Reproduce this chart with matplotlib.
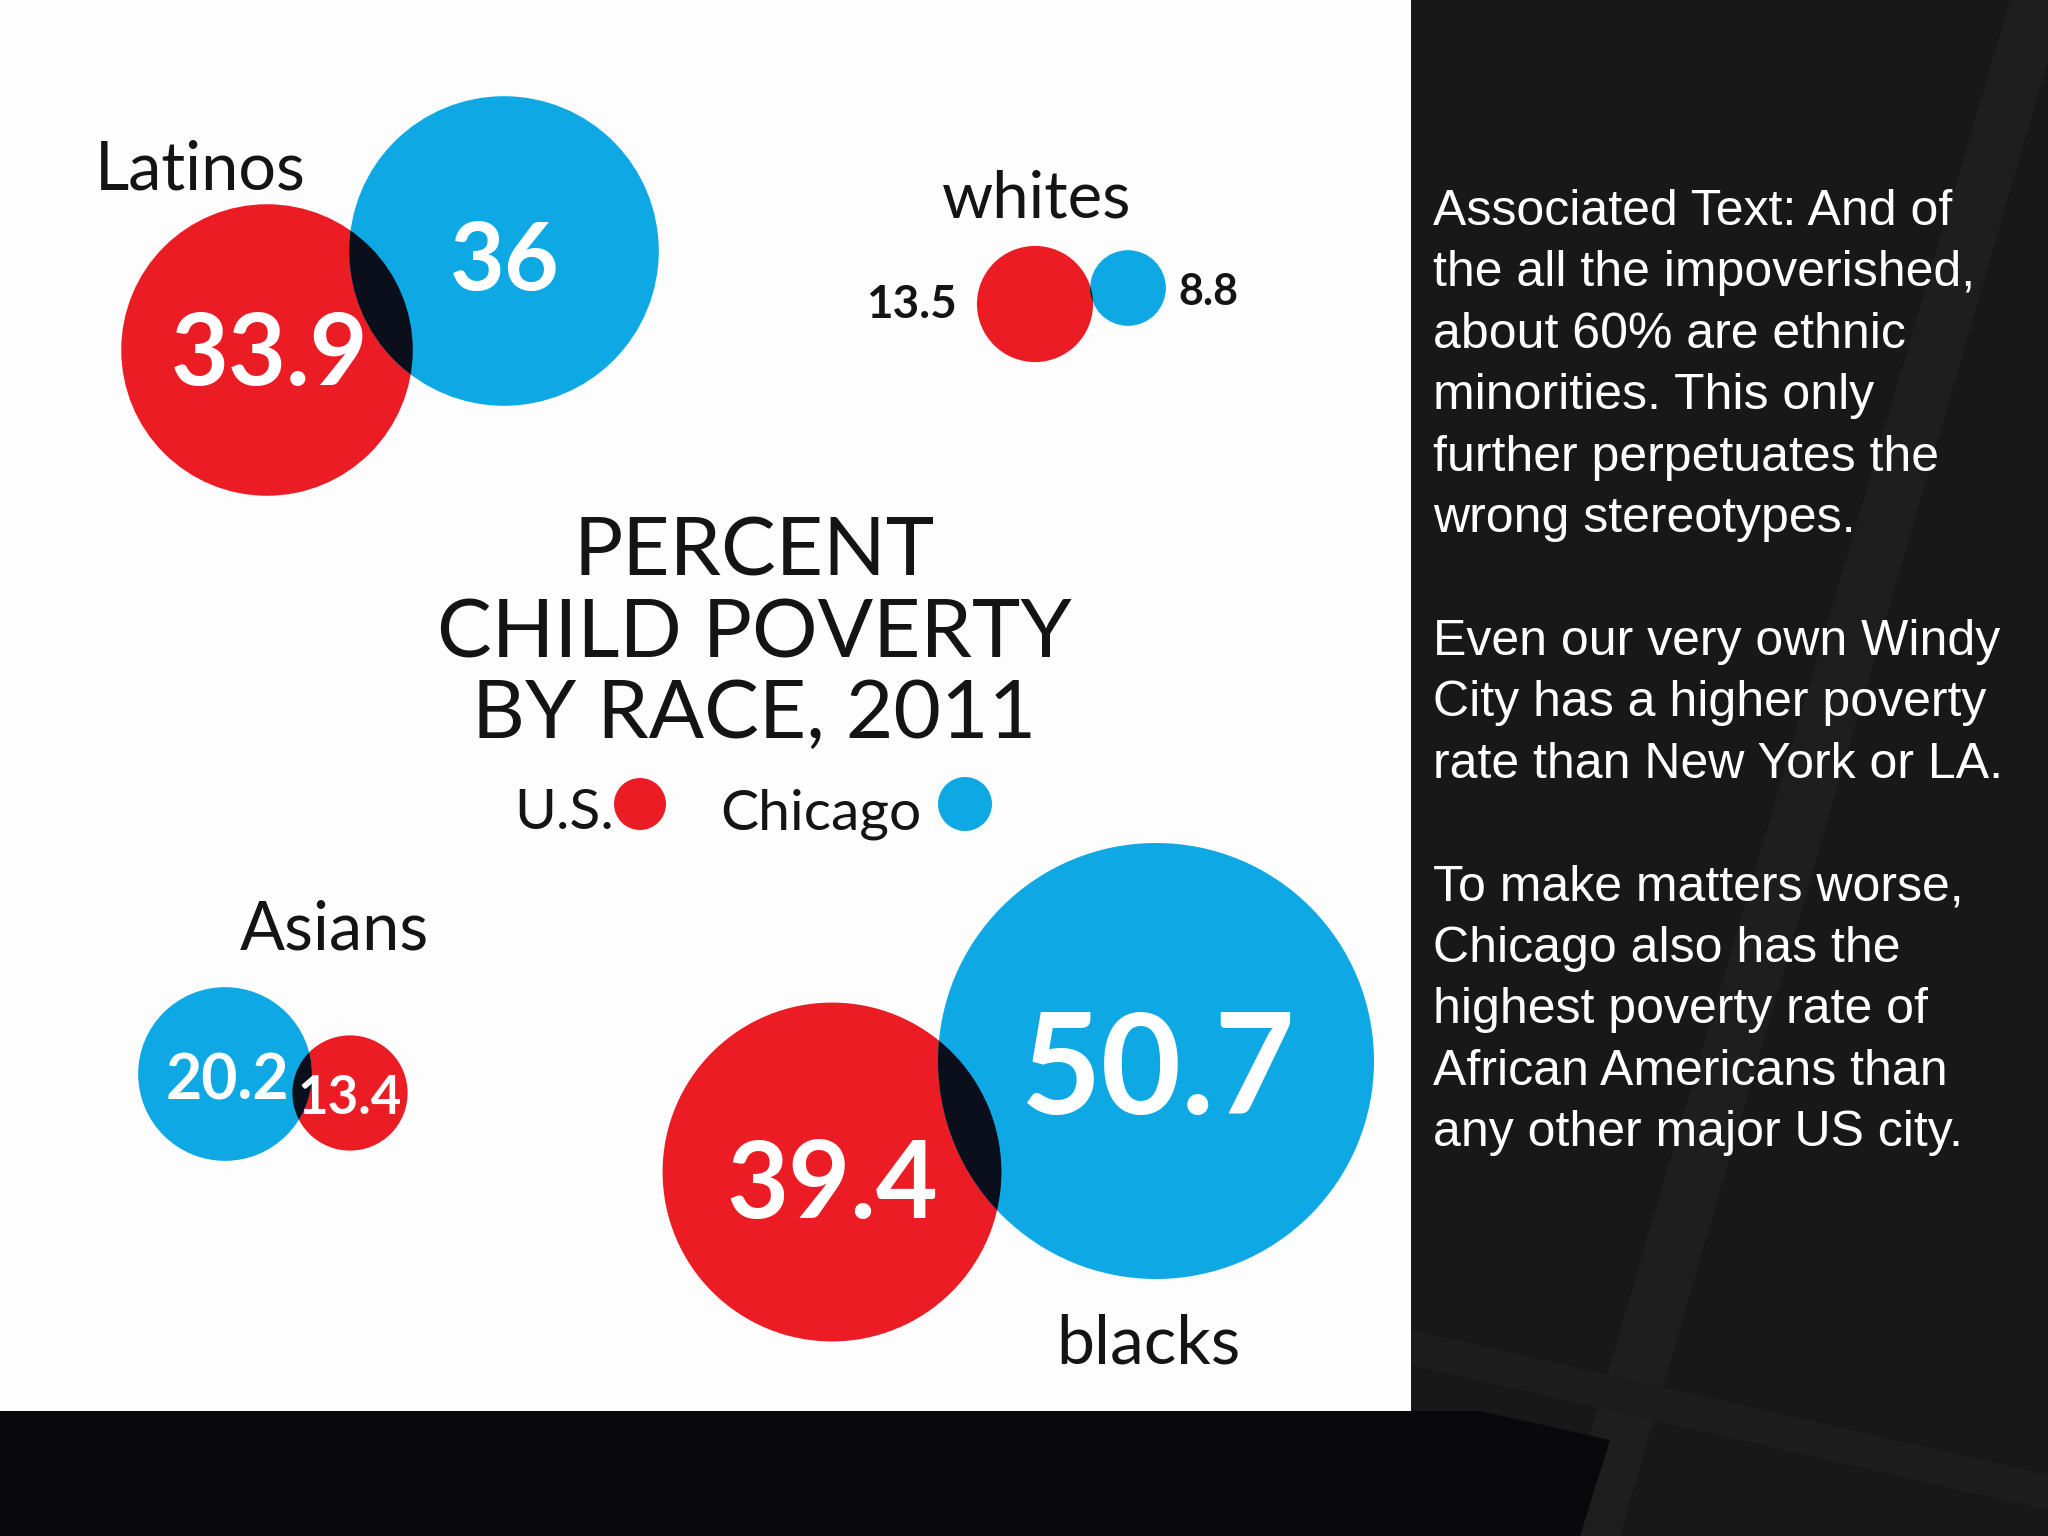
import matplotlib.pyplot as plt
from matplotlib.patches import Circle, Rectangle, Polygon

# data: child poverty rate (%) by race, 2011
groups = ['Latinos', 'whites', 'Asians', 'blacks']
us_vals = [33.9, 13.5, 13.4, 39.4]
chicago_vals = [36, 8.8, 20.2, 50.7]

notes = [
    'Associated Text: And of',
    'the all the impoverished,',
    'about 60% are ethnic',
    'minorities. This only',
    'further perpetuates the',
    'wrong stereotypes.',
    '',
    'Even our very own Windy',
    'City has a higher poverty',
    'rate than New York or LA.',
    '',
    'To make matters worse,',
    'Chicago also has the',
    'highest poverty rate of',
    'African Americans than',
    'any other major US city.',
]

RED = '#ec1c24'
BLUE = '#0ea9e4'
LENS = '#0b0f1c'
INK = '#141414'
px_per_pct = 4.3  # circle radius in pixels per percentage point

# layout (pixel coords, origin top-left)
us_xy = [(267, 350), (1035, 304), (350, 1093), (832, 1172)]
chi_xy = [(504, 251), (1128, 288), (225, 1074), (1156, 1061)]

fig = plt.figure(figsize=(20.48, 15.36), dpi=100)
fig.patch.set_facecolor('#181818')
ax = fig.add_axes([0, 0, 1, 1])
ax.set_xlim(0, 2048)
ax.set_ylim(1536, 0)
ax.axis('off')

# slide background
ax.add_patch(Polygon([(1560, 1536), (1620, 1536), (2048, 60), (2048, 0), (2010, 0)],
                     closed=True, color='#1e1e1e', lw=0, zorder=0))
ax.add_patch(Polygon([(1411, 1330), (2048, 1475), (2048, 1510), (1411, 1365)],
                     closed=True, color='#1d1d1d', lw=0, zorder=0))
ax.add_patch(Polygon([(0, 1411), (1480, 1411), (1610, 1440), (1580, 1536), (0, 1536)],
                     closed=True, color='#09080b', lw=0, zorder=1))
ax.add_patch(Rectangle((0, 0), 1411, 1411, color='#fdfdfd', lw=0, zorder=1))

# paired circles, radius proportional to value, black where they overlap
for g, u, c, uxy, cxy in zip(groups, us_vals, chicago_vals, us_xy, chi_xy):
    cu = Circle(uxy, u * px_per_pct, color=RED, lw=0, zorder=2)
    cc = Circle(cxy, c * px_per_pct, color=BLUE, lw=0, zorder=2)
    ax.add_patch(cu)
    ax.add_patch(cc)
    lens = Circle(cxy, c * px_per_pct, color=LENS, lw=0, zorder=3)
    ax.add_patch(lens)
    lens.set_clip_path(cu)

num = dict(family='Lato', weight='bold', color='white', ha='center', va='baseline', zorder=5)
lab = dict(family='Lato', color=INK, va='baseline', zorder=5)

# Latinos
ax.text(95, 190, groups[0], fontsize=48, ha='left', **lab)
ax.text(270, 385, f'{us_vals[0]:g}', fontsize=72, **num)
ax.text(505, 290, f'{chicago_vals[0]:g}', fontsize=68, **num)

# whites
ax.text(1037, 218, groups[1], fontsize=47, ha='center', **lab)
ax.text(957, 318, f'{us_vals[1]:g}', fontsize=33, ha='right', weight='bold', **lab)
ax.text(1178, 305, f'{chicago_vals[1]:g}', fontsize=31, ha='left', weight='bold', **lab)

# Asians
ax.text(240, 949, groups[2], fontsize=48, ha='left', **lab)
ax.text(227, 1100, f'{chicago_vals[2]:g}', fontsize=45, **num)
ax.text(350, 1114, f'{us_vals[2]:g}', fontsize=38, **num)

# blacks
ax.text(1148, 1363, groups[3], fontsize=49, ha='center', **lab)
ax.text(1158, 1114, f'{chicago_vals[3]:g}', fontsize=100, **num)
ax.text(832, 1218, f'{us_vals[3]:g}', fontsize=77, **num)

# title and legend
for y, line in zip([575, 657, 738], ['PERCENT', 'CHILD POVERTY', 'BY RACE, 2011']):
    ax.text(754, y, line, fontsize=59, ha='center', **lab)
ax.text(514, 829, 'U.S.', fontsize=41, ha='left', **lab)
ax.add_patch(Circle((640, 804), 26, color=RED, lw=0, zorder=5))
ax.text(720, 829, 'Chicago', fontsize=41, ha='left', **lab)
ax.add_patch(Circle((965, 804), 27, color=BLUE, lw=0, zorder=5))

# slide notes on the right
for i, line in enumerate(notes):
    if line:
        ax.text(1433, 225 + i * 61.4, line, fontsize=36, family='Liberation Sans',
                color='white', ha='left', va='baseline', zorder=5)

fig.savefig('out.png', dpi=100, facecolor=fig.get_facecolor())
